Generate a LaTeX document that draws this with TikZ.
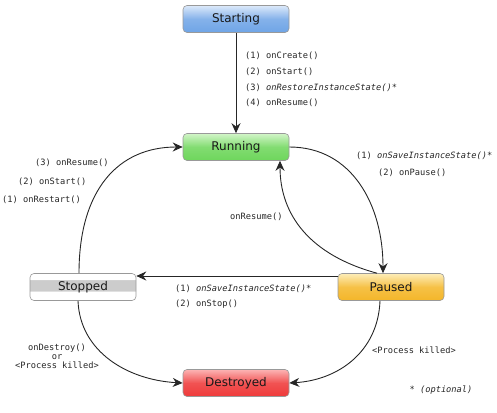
\documentclass[tikz,border=0pt]{standalone}
\usepackage{fontspec}
\setsansfont{DejaVu Sans}
\setmonofont{DejaVu Sans Mono}
\usepackage{tikz}
\usetikzlibrary{calc,arrows.meta}

\definecolor{BlueTop}{HTML}{DCE9FA}
\definecolor{BlueBot}{HTML}{6FA4E6}
\definecolor{GreenTop}{HTML}{D2F5C8}
\definecolor{GreenBot}{HTML}{6ED65C}
\definecolor{OrangeTop}{HTML}{FDEDB8}
\definecolor{OrangeBot}{HTML}{F4B62A}
\definecolor{RedTop}{HTML}{FCB4B4}
\definecolor{RedBot}{HTML}{EE3A3A}

\pgfdeclareverticalshading{stopband}{100bp}{color(0bp)=(white); color(42bp)=(white);
color(43bp)=(black!20); color(63bp)=(black!20); color(64bp)=(white); color(100bp)=(white)}

\begin{document}
\begin{tikzpicture}[
x=1pt, y=-1pt,
S/.style={rectangle, rounded corners=4pt, draw=black!40, line width=0.6pt,
minimum width=106pt, minimum height=27pt, font=\sffamily\fontsize{12}{14}\selectfont, text=black!90},
S1/.style={S, top color=BlueTop, bottom color=BlueBot, middle color=BlueBot!80!BlueTop},
S2/.style={S, top color=GreenTop, bottom color=GreenBot, middle color=GreenBot!80!GreenTop},
S3/.style={S, shading=stopband},
S4/.style={S, top color=OrangeTop, bottom color=OrangeBot, middle color=OrangeBot!80!OrangeTop},
S5/.style={S, top color=RedTop, bottom color=RedBot, middle color=RedBot!80!RedTop},
L/.style={font=\ttfamily\fontsize{8.7}{10}\selectfont, inner sep=0pt, anchor=west, text=black!85},
A/.style={-{Stealth[length=10pt,width=9pt]}, line width=0.9pt, draw=black!85},
]
	\useasboundingbox (0,0) rectangle (497,412);

	% states
	\node[S1] (Start) at (236,19) {Starting};
	\node[S2] (Run) at ($ (Start) + (0,128) $) {Running};
	\node[S3] (Stop) at ($ (Run) + (-153,140) $) {Stopped};
	\node[S4] (Pause) at ($ (Run) + (155,140) $) {Paused};
	\node[S5] (Destroy) at ($ (Run) + (0,236) $) {Destroyed};

	% transitions
	\draw[A] (Start) -- (Run);
	\draw[A] (Run.east) .. controls (352,147) and (383,205) .. ($ (Pause.north) + (-8,0) $);
	\draw[A] ($ (Pause.north) + (-14,0) $) .. controls (310,255) and (280,215) .. ($ (Run.south) + (44,0) $);
	\draw[A] ($ (Pause.west) + (0,-11) $) -- ($ (Stop.east) + (0,-11) $);
	\draw[A] ($ (Stop.north) + (-4,0) $) .. controls (79,190) and (118,147) .. (Run.west);
	\draw[A] ($ (Stop.south) + (-5,0) $) .. controls (80,352) and (128,380) .. (Destroy.west);
	\draw[A] ($ (Pause.south) + (-11,0) $) .. controls (378,352) and (338,380) .. (Destroy.east);

	% labels
	\node[L, align=left, font=\ttfamily\fontsize{8.7}{15.7}\selectfont] (StartLbl) at (245,79.5)
	{(1) onCreate()\\(2) onStart()\\(3) \textit{onRestoreInstanceState()*}\\(4) onResume()};
	\node[L] (PauseLbl1) at (356,156) {(1) \textit{onSaveInstanceState()*}};
	\node[L] (PauseLbl2) at (378,173) {(2) onPause()};
	\node[L] (ResumeLbl) at (230,217) {onResume()};
	\node[L] (RestartLbl3) at (35,163) {(3) onResume()};
	\node[L] (RestartLbl2) at (18,182) {(2) onStart()};
	\node[L] (RestartLbl1) at (2,200) {(1) onRestart()};
	\node[L] (StopLbl1) at (175,289) {(1) \textit{onSaveInstanceState()*}};
	\node[L] (StopLbl2) at (175,304) {(2) onStop()};
	\node[L, anchor=center, align=center, font=\ttfamily\fontsize{8.7}{8.9}\selectfont] (DestroyLbl) at (57,356)
	{onDestroy()\\or\\<Process killed>};
	\node[L, anchor=center] (KillLbl) at (414,350) {<Process killed>};
	\node[L, anchor=center] (NoteLbl) at (441,390) {* \textit{(optional)}};
\end{tikzpicture}
\end{document}
